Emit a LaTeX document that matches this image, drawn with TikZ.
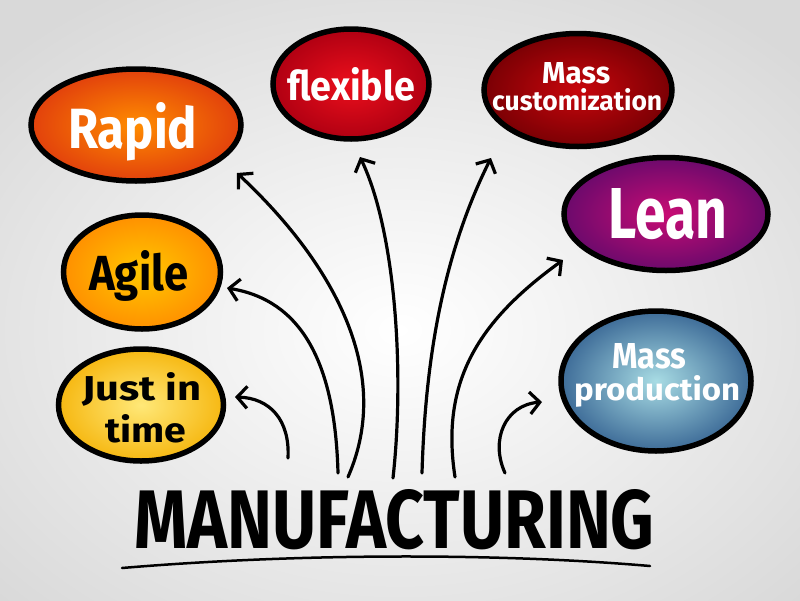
\documentclass[tikz,border=0pt]{standalone}
\usepackage{fontspec}
\setmainfont{Fira Sans}
\usetikzlibrary{shapes.geometric,arrows.meta}
\definecolor{rapidA}{HTML}{FF8C00}
\definecolor{rapidB}{HTML}{E2410C}
\definecolor{flexA}{HTML}{EC0F1C}
\definecolor{flexB}{HTML}{B00012}
\definecolor{custA}{HTML}{C8060C}
\definecolor{custB}{HTML}{7A0004}
\definecolor{leanA}{HTML}{C80C74}
\definecolor{leanB}{HTML}{6C0A6C}
\definecolor{agileA}{HTML}{FFC800}
\definecolor{agileB}{HTML}{FF9000}
\definecolor{jitA}{HTML}{FFE878}
\definecolor{jitB}{HTML}{F6B812}
\definecolor{prodA}{HTML}{A8DCE4}
\definecolor{prodB}{HTML}{3E6C98}
\newcommand\fitbox[3]{\resizebox{#1pt}{#2pt}{#3}}
\begin{document}
\begin{tikzpicture}[x=1pt,y=-1pt,
  bubble/.style={ellipse, draw=black, line width=5.5pt, inner sep=0pt},
  lbl/.style={anchor=base west, inner sep=0pt, font=\bfseries},
  conn/.style={line width=3.2pt, line cap=round,
    -{Straight Barb[length=10pt,width=22pt,line width=3.2pt]}},
]
\useasboundingbox (0,0) rectangle (800,600);
\begin{scope}
\clip (0,0) rectangle (800,600);
\shade[inner color=white, outer color=black!15] (-150,-70) rectangle (950,730);
\end{scope}

% bubbles
\node[bubble, minimum width=210pt, minimum height=112pt, inner color=rapidA, outer color=rapidB] (rapid) at (136,125) {};
\node[bubble, minimum width=156pt, minimum height=110pt, inner color=flexA, outer color=flexB] (flex) at (351,84) {};
\node[bubble, minimum width=188pt, minimum height=113pt, inner color=custA, outer color=custB] (cust) at (578,90) {};
\node[bubble, minimum width=204pt, minimum height=113pt, inner color=leanA, outer color=leanB] (lean) at (666,214) {};
\node[bubble, minimum width=157pt, minimum height=114pt, inner color=agileA, outer color=agileB] (agile) at (142,272) {};
\node[bubble, minimum width=165pt, minimum height=112pt, inner color=jitA, outer color=jitB] (jit) at (141,405) {};
\node[bubble, minimum width=190pt, minimum height=140pt, inner color=prodA, outer color=prodB] (prod) at (656,381) {};

% labels
\node[lbl, text=white] (rapidl) at (68,148) {\fitbox{129}{46}{Rapid}};
\node[lbl, text=white] (flexl) at (287,100) {\fitbox{128}{33}{flexible}};
\node[lbl, text=white] (custl1) at (542,83) {\fitbox{68}{21}{Mass}};
\node[lbl, text=white] (custl2) at (492,110) {\fitbox{170}{22}{customization}};
\node[lbl, text=white] (leanl) at (608,238) {\fitbox{119}{50}{Lean}};
\node[lbl, text=black] (agilel) at (89,290) {\fitbox{99}{40}{Agile}};
\node[lbl, text=black] (jitl1) at (82,400) {\fitbox{119}{28}{Just in}};
\node[lbl, text=black] (jitl2) at (105,442) {\fitbox{81}{28}{time}};
\node[lbl, text=white] (prodl1) at (612,368) {\fitbox{74}{25}{Mass}};
\node[lbl, text=white] (prodl2) at (574,400) {\fitbox{166}{25}{production}};
\node[lbl, text=black] (mfg) at (134,548) {\fitbox{520}{59}{MANUFACTURING}};

% connector ends
\coordinate (sJit) at (288,458);  \coordinate (tJit) at (235,397);
\coordinate (sAgile) at (338,473); \coordinate (tAgile) at (227,288);
\coordinate (sRapid) at (348,477); \coordinate (tRapid) at (237,173);
\coordinate (sFlex) at (393,478); \coordinate (tFlex) at (360,157);
\coordinate (sCust) at (422,473); \coordinate (tCust) at (491,158);
\coordinate (sLean) at (455,477); \coordinate (tLean) at (563,260);
\coordinate (sProd) at (505,473); \coordinate (tProd) at (542,402);

\draw[conn] (sJit) .. controls (290,420) and (270,398) .. (tJit);
\draw[conn] (sAgile) .. controls (335,360) and (300,300) .. (tAgile);
\draw[conn] (sRapid) .. controls (395,370) and (330,260) .. (tRapid);
\draw[conn] (sFlex) .. controls (405,370) and (395,230) .. (tFlex);
\draw[conn] (sCust) .. controls (425,370) and (440,260) .. (tCust);
\draw[conn] (sLean) .. controls (440,380) and (480,320) .. (tLean);
\draw[conn] (sProd) .. controls (490,440) and (505,405) .. (tProd);

% underline
\coordinate (uL) at (122,568); \coordinate (uR) at (650,566);
\draw[line width=2.5pt, line cap=round] (uL) .. controls (300,553) and (500,553) .. (uR);
\end{tikzpicture}
\end{document}
